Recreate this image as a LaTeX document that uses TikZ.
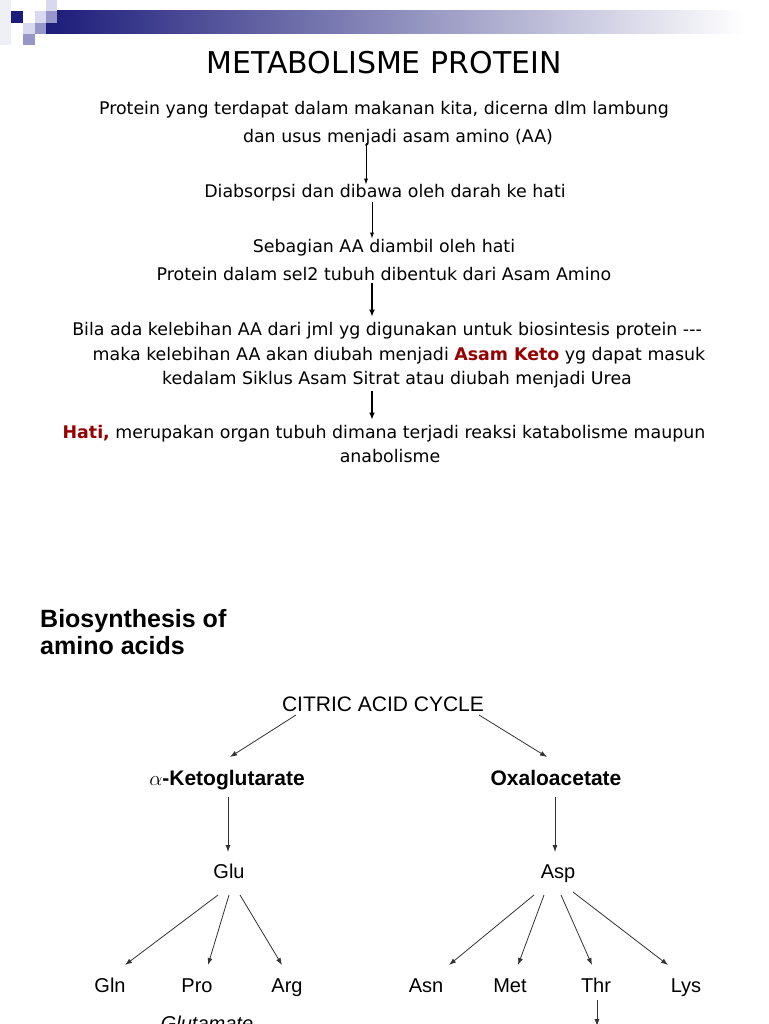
\documentclass[tikz,border=0pt]{standalone}
\usepackage{fontspec}
\setmainfont{DejaVu Sans}
\newfontfamily\arialfont{Liberation Sans}
\usetikzlibrary{arrows.meta}
\definecolor{navy}{RGB}{28,28,122}
\definecolor{lilac}{RGB}{216,216,238}
\definecolor{midlilac}{RGB}{150,150,200}
\definecolor{ketored}{RGB}{150,0,0}
\definecolor{arrgray}{RGB}{50,50,50}

\begin{document}
\begin{tikzpicture}[x=1pt, y=-1pt,
    txt/.style={anchor=base, inner sep=0pt, font=\fontsize{17.4}{20}\selectfont},
    bio/.style={anchor=base, inner sep=0pt, font=\arialfont\fontsize{20}{24}\selectfont},
    biob/.style={anchor=base, inner sep=0pt, font=\arialfont\bfseries\fontsize{21}{24}\selectfont},
    flow/.style={-{Latex[length=6pt,width=4pt]}, line width=0.8pt},
    flowbold/.style={-{Latex[length=7pt,width=6pt]}, line width=1.6pt},
    bioarr/.style={-{Latex[length=7pt,width=5pt]}, line width=0.8pt, draw=arrgray}]
    \useasboundingbox (0,0) rectangle (768,1024);
    \clip (0,0) rectangle (768,1024);
    % header bar
    \shade[left color=navy, right color=white] (46,11) rectangle (745,34);
    \fill[lilac!40] (0,0) rectangle (11,45);
    \fill[navy] (11,11) rectangle (23,23);
    \fill[lilac] (46,0) rectangle (57,11);
    \fill[lilac] (35,11) rectangle (46,23);
    \fill[midlilac] (46,11) rectangle (57,23);
    \fill[lilac] (23,23) rectangle (35,34);
    \fill[midlilac] (35,23) rectangle (46,34);
    \fill[midlilac] (23,34) rectangle (35,45);

    \node[anchor=base, inner sep=0pt, font=\fontsize{30}{34}\selectfont] (title) at (384,74) {METABOLISME PROTEIN};

    \node[txt] (l1) at (384,115) {Protein yang terdapat dalam makanan kita, dicerna dlm lambung};
    \node[txt] (l2) at (398,143) {dan usus menjadi asam amino (AA)};
    \node[txt] (l3) at (385,198) {Diabsorpsi dan dibawa oleh darah ke hati};
    \node[txt] (l4) at (384,252) {Sebagian AA diambil oleh hati};
    \node[txt] (l5) at (384,280) {Protein dalam sel2 tubuh dibentuk dari Asam Amino};
    \node[txt] (l6) at (387,335) {Bila ada kelebihan AA dari jml yg digunakan untuk biosintesis protein -{}-{}-};
    \node[txt] (l7) at (399,360) {maka kelebihan AA akan diubah menjadi \textcolor{ketored}{\textbf{Asam Keto}} yg dapat masuk};
    \node[txt] (l8) at (397,384) {kedalam Siklus Asam Sitrat atau diubah menjadi Urea};
    \node[txt] (l9) at (384,438) {\textcolor{ketored}{\textbf{Hati,}} merupakan organ tubuh dimana terjadi reaksi katabolisme maupun};
    \node[txt] (l10) at (390,462) {anabolisme};

    \coordinate (a1) at (366,0);
    \coordinate (a2) at (372,0);
    \draw[flow] (l2.base -| a1) -- (l3.north -| a1);
    \draw[flow] (l3.south -| a2) -- (l4.north -| a2);
    \draw[flowbold, shorten <=3pt, shorten >=5pt] (l5.south -| a2) -- (l6.north -| a2);
    \draw[flowbold, shorten <=3pt, shorten >=5pt] (l8.south -| a2) -- (l9.north -| a2);

    % biosynthesis tree
    \node[anchor=base west, inner sep=0pt, font=\arialfont\bfseries\fontsize{25}{27}\selectfont] (bio1) at (40,627) {Biosynthesis of};
    \node[anchor=base west, inner sep=0pt, font=\arialfont\bfseries\fontsize{25}{27}\selectfont] (bio2) at (40,654) {amino acids};

    \node[bio, font=\arialfont\fontsize{21}{24}\selectfont] (cac) at (383,711) {CITRIC ACID CYCLE};
    \node[biob] (keto) at (227,785) {$\alpha$-Ketoglutarate};
    \node[biob] (oxa) at (556,785) {Oxaloacetate};
    \node[bio] (glu) at (229,878) {Glu};
    \node[bio] (asp) at (558,878) {Asp};
    \node[bio] (gln) at (110,992) {Gln};
    \node[bio] (pro) at (197,992) {Pro};
    \node[bio] (arg) at (287,992) {Arg};
    \node[bio] (asn) at (426,992) {Asn};
    \node[bio] (met) at (510,992) {Met};
    \node[bio] (thr) at (596,992) {Thr};
    \node[bio] (lys) at (686,992) {Lys};
    \node[bio, font=\arialfont\itshape\fontsize{20}{24}\selectfont] (glutamate) at (207,1030) {Glutamate};
    \coordinate (thrend) at (597,1026);

    \draw[bioarr] ([xshift=-87pt,yshift=-4pt]cac.base) -- ([xshift=3pt,yshift=28pt]keto.base);
    \draw[bioarr] ([xshift=96pt,yshift=-4pt]cac.base) -- ([xshift=-9pt,yshift=28pt]oxa.base);
    \draw[bioarr] ([xshift=1pt,yshift=-12pt]keto.base) -- ([xshift=-1pt,yshift=26pt]glu.base);
    \draw[bioarr] ([xshift=-1pt,yshift=-12pt]oxa.base) -- ([xshift=-3pt,yshift=26pt]asp.base);
    \draw[bioarr] ([xshift=-11pt,yshift=-17pt]glu.base) -- ([xshift=15pt,yshift=27pt]gln.base);
    \draw[bioarr] ([xshift=0pt,yshift=-17pt]glu.base) -- ([xshift=11pt,yshift=27pt]pro.base);
    \draw[bioarr] ([xshift=11pt,yshift=-17pt]glu.base) -- ([xshift=-5pt,yshift=27pt]arg.base);
    \draw[bioarr] ([xshift=-24pt,yshift=-17pt]asp.base) -- ([xshift=23pt,yshift=27pt]asn.base);
    \draw[bioarr] ([xshift=-14pt,yshift=-17pt]asp.base) -- ([xshift=8pt,yshift=27pt]met.base);
    \draw[bioarr] ([xshift=3pt,yshift=-17pt]asp.base) -- ([xshift=-4pt,yshift=27pt]thr.base);
    \draw[bioarr] ([xshift=15pt,yshift=-14pt]asp.base) -- ([xshift=-18pt,yshift=27pt]lys.base);
    \draw[bioarr] ([xshift=1pt,yshift=-8pt]thr.base) -- (thrend);
\end{tikzpicture}
\end{document}
